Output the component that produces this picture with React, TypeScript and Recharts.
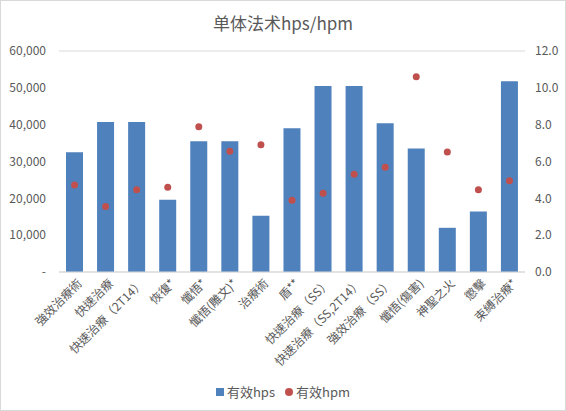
import { ComposedChart, Bar, Line, XAxis, YAxis, CartesianGrid } from "recharts";

const skills = [
  "強效治療術",
  "快速治療",
  "快速治療（2T14）",
  "恢復*",
  "懺悟*",
  "懺悟(雕文)*",
  "治療術",
  "盾**",
  "快速治療（SS）",
  "快速治療（SS,2T14）",
  "強效治療（SS）",
  "懺悟(傷害)",
  "神聖之火",
  "懲擊",
  "束縛治療*",
];
const hps = [32500, 40700, 40700, 19600, 35500, 35500, 15300, 39000, 50500, 50500, 40400, 33500, 12000, 16400, 51800];
const hpm = [4.73, 3.56, 4.46, 4.6, 7.89, 6.56, 6.91, 3.89, 4.27, 5.31, 5.69, 10.6, 6.51, 4.46, 4.95];
const leftTicks = [0, 10000, 20000, 30000, 40000, 50000, 60000];
const rightTicks = [0, 2, 4, 6, 8, 10, 12];

const data = skills.map((name, i) => ({ name, hps: hps[i], hpm: hpm[i] }));

const BLUE = "#4F81BD";
const RED = "#C0504D";
const GRAY = "#595959";

const SkillTick = ({ x, y, payload }: any) => (
  <text
    x={x + 6}
    y={y + 2}
    transform={`rotate(-45, ${x + 6}, ${y + 2})`}
    textAnchor="end"
    dominantBaseline="middle"
    fontSize={12}
    fill={GRAY}
    fontFamily="'Noto Sans CJK TC', sans-serif"
  >
    {payload.value}
  </text>
);

export default function App() {
  return (
    <div
      style={{
        position: "absolute",
        left: 0,
        top: 0,
        width: 564,
        height: 409,
        border: "1px solid #d9d9d9",
        background: "#fff",
        fontFamily: "'Noto Sans CJK SC', sans-serif",
      }}
    >
      <div style={{ position: "absolute", top: 9, width: "100%", textAlign: "center", fontSize: 17, color: GRAY }}>
        单体法术hps/hpm
      </div>
      <ComposedChart
        width={564}
        height={409}
        data={data}
        margin={{ top: 50, right: 0, bottom: 38, left: 0 }}
        style={{ fontFamily: "'Noto Sans CJK SC', sans-serif" }}
      >
        <CartesianGrid vertical={false} stroke="#d9d9d9" />
        <XAxis
          dataKey="name"
          interval={0}
          height={100}
          tick={<SkillTick />}
          tickLine={false}
          axisLine={{ stroke: "#d9d9d9" }}
        />
        <YAxis
          yAxisId="left"
          width={58}
          domain={[0, 60000]}
          ticks={leftTicks}
          tickFormatter={(v: number) => (v === 0 ? "-" : v.toLocaleString("en-US"))}
          tick={{ fontSize: 12, fill: GRAY }}
          tickLine={false}
          axisLine={false}
          tickMargin={7}
        />
        <YAxis
          yAxisId="right"
          orientation="right"
          width={40}
          domain={[0, 12]}
          ticks={rightTicks}
          tickFormatter={(v: number) => v.toFixed(1)}
          tick={{ fontSize: 12, fill: GRAY, textAnchor: "start" }}
          tickLine={false}
          axisLine={false}
          tickMargin={4}
        />
        <Bar yAxisId="left" dataKey="hps" name="有效hps" fill={BLUE} barSize={17} isAnimationActive={false} />
        <Line
          yAxisId="right"
          dataKey="hpm"
          name="有效hpm"
          stroke="none"
          dot={{ r: 3.5, fill: RED, stroke: "none" }}
          activeDot={false}
          isAnimationActive={false}
        />
      </ComposedChart>
      <div
        style={{
          position: "absolute",
          top: 381,
          width: "100%",
          display: "flex",
          justifyContent: "center",
          gap: 10,
          fontSize: 13,
          color: GRAY,
        }}
      >
        <span style={{ display: "flex", alignItems: "center", gap: 3 }}>
          <svg width={8} height={8}><rect width={8} height={8} fill={BLUE} /></svg>
          有效hps
        </span>
        <span style={{ display: "flex", alignItems: "center", gap: 3 }}>
          <svg width={8} height={8}><circle cx={4} cy={4} r={4} fill={RED} /></svg>
          有效hpm
        </span>
      </div>
    </div>
  );
}
